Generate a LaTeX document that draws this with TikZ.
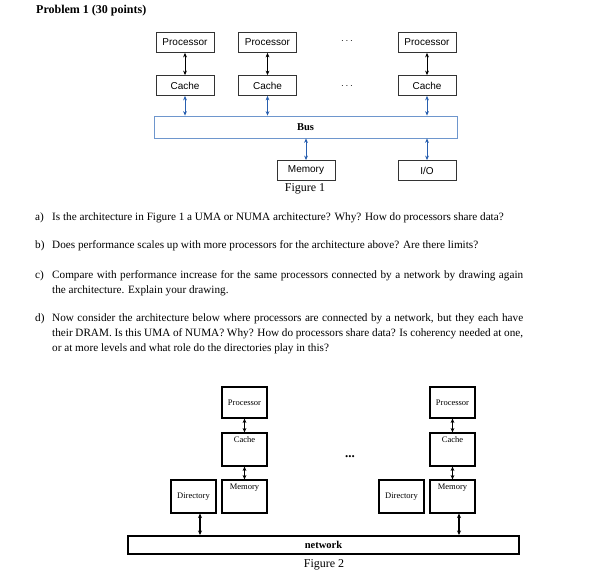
\documentclass[tikz,border=0pt]{standalone}
\usepackage{fontspec}
\setmainfont{Liberation Serif}
\newfontfamily\boxfont{Liberation Sans}
\usetikzlibrary{arrows.meta}
\definecolor{busblue}{RGB}{40,95,175}
\definecolor{buslight}{RGB}{110,150,205}
\begin{document}
\begin{tikzpicture}[x=1pt,y=-1pt,
  pbox/.style={draw=black!80,line width=0.8pt,minimum width=58pt,minimum height=20pt,inner sep=0pt,font=\boxfont\fontsize{10}{11}\selectfont},
  link/.style={{Stealth[length=4.5pt,width=3.8pt]}-{Stealth[length=4.5pt,width=3.8pt]},line width=1pt},
  buslink/.style={link,draw=busblue,fill=busblue},
  nbox/.style={draw,line width=1.1pt,minimum width=45pt,minimum height=33pt,inner sep=0pt,font=\fontsize{8.5}{9}\selectfont},
  toplabel/.style={label={[anchor=north,inner sep=0pt,yshift=-4pt,font=\fontsize{8.5}{9}\selectfont]north:#1}},
  nlink/.style={{Stealth[length=4.5pt,width=4pt]}-{Stealth[length=4.5pt,width=4pt]},line width=1.6pt},
  qtext/.style={anchor=base west,inner sep=0pt,text width=471pt,align=justify,font=\fontsize{11.2}{14.6}\selectfont},
  qlabel/.style={anchor=base west,inner sep=0pt,font=\fontsize{11.2}{14.6}\selectfont}]
\useasboundingbox (0,0) rectangle (598,588);
\node[anchor=west,inner sep=0pt,font=\bfseries\fontsize{12}{14}\selectfont] (title) at (36,11) {Problem 1 (30 points)};

\node[pbox] (p1) at (185,42.5) {Processor};
\node[pbox] (p2) at (267.5,42.5) {Processor};
\node[pbox] (p3) at (427,42.5) {Processor};
\node[inner sep=0pt] (pdots) at (347,41) {$\cdots$};
\node[pbox] (c1) at (185,85.5) {Cache};
\node[pbox] (c2) at (267.5,85.5) {Cache};
\node[pbox] (c3) at (427,85.5) {Cache};
\node[inner sep=0pt] (cdots) at (347,86) {$\cdots$};
\node[draw=buslight,line width=0.8pt,minimum width=303pt,minimum height=22pt,inner sep=0pt,font=\bfseries\fontsize{10.5}{12}\selectfont] (bus) at (305.5,127) {Bus};
\node[pbox] (mem) at (306,170.5) {Memory};
\node[pbox] (io) at (427,170.5) {I/O};
\node[inner sep=0pt,font=\fontsize{12}{14}\selectfont] (fig1) at (305,189) {Figure 1};
\draw[link] (p1) -- (c1);
\draw[link] (p2) -- (c2);
\draw[link] (p3) -- (c3);
\draw[buslink] (c1.south) -- (c1.south |- bus.north);
\draw[buslink] (c2.south) -- (c2.south |- bus.north);
\draw[buslink] (c3.south) -- (c3.south |- bus.north);
\draw[buslink] (mem.north |- bus.south) -- (mem.north);
\draw[buslink] (io.north |- bus.south) -- (io.north);

\node[qlabel] (la) at (35,221) {a)};
\node[qtext] (qa) at (52,221) {Is the architecture in Figure 1 a UMA or NUMA architecture? Why? How do processors share data?};
\node[qlabel] (lb) at (35,249) {b)};
\node[qtext] (qb) at (52,249) {Does performance scales up with more processors for the architecture above? Are there limits?};
\node[qlabel] (lc) at (35,279) {c)};
\node[qtext] (qc) at (52,279) {Compare with performance increase for the same processors connected by a network by drawing again\linebreak the architecture. Explain your drawing.};
\node[qlabel] (ld) at (35,322) {d)};
\node[qtext] (qd) at (52,322) {Now consider the architecture below where processors are connected by a network, but they each have\linebreak their DRAM. Is this UMA of NUMA? Why? How do processors share data? Is coherency needed at one,\linebreak or at more levels and what role do the directories play in this?};

\node[nbox,minimum height=31pt] (pl) at (244.5,402.5) {Processor};
\node[nbox,toplabel=Cache] (cl) at (244.5,449.5) {};
\node[nbox,toplabel=Memory] (ml) at (244.5,496.5) {};
\node[nbox] (dl) at (193.5,496.5) {Directory};
\node[nbox,minimum height=31pt] (pr) at (452.5,402.5) {Processor};
\node[nbox,toplabel=Cache] (cr) at (452.5,449.5) {};
\node[nbox,toplabel=Memory] (mr) at (452.5,496.5) {};
\node[nbox] (dr) at (401.5,496.5) {Directory};
\node[inner sep=0pt,font=\bfseries\fontsize{13}{14}\selectfont] (ndots) at (350,457) {\textbf{...}};
\node[draw,line width=2pt,minimum width=391pt,minimum height=18pt,inner sep=0pt,font=\bfseries\fontsize{10.5}{12}\selectfont] (net) at (323.5,545) {network};
\node[inner sep=0pt,font=\fontsize{12}{14}\selectfont] (fig2) at (324,565) {Figure 2};
\draw[link] (pl) -- (cl);
\draw[link] (cl) -- (ml);
\draw[link] (pr) -- (cr);
\draw[link] (cr) -- (mr);
\draw[nlink] ([xshift=6.5pt]dl.south) -- ([xshift=6.5pt]dl.south |- net.north);
\draw[nlink] ([xshift=6.5pt]mr.south) -- ([xshift=6.5pt]mr.south |- net.north);
\end{tikzpicture}
\end{document}
